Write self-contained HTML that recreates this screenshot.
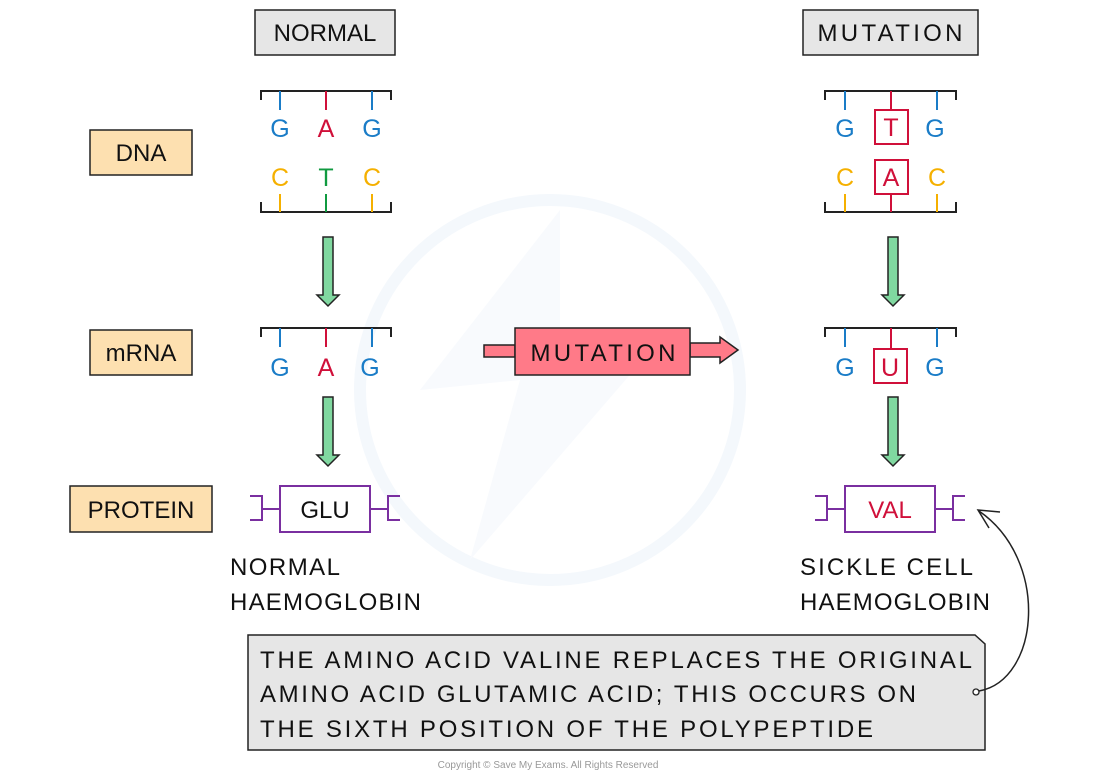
<!DOCTYPE html>
<html><head><meta charset="utf-8"><style>
body{margin:0;background:#fff}
svg{display:block}
text{font-family:"Liberation Sans","DejaVu Sans",sans-serif}
</style></head><body>
<svg width="1100" height="775" viewBox="0 0 1100 775" xmlns="http://www.w3.org/2000/svg">
<!-- watermark -->
<circle cx="550" cy="390" r="190" fill="none" stroke="#f4f8fc" stroke-width="12"/>
<path d="M560 210 L420 390 L520 380 L470 560 L660 340 L560 350 Z" fill="#f8fafd"/>

<g stroke="#222" stroke-width="1.5">
<rect x="255" y="10" width="140" height="45" fill="#e6e6e6"/>
<rect x="803" y="10" width="175" height="45" fill="#e6e6e6"/>
<rect x="90" y="130" width="102" height="45" fill="#fde0b0"/>
<rect x="90" y="330" width="102" height="45" fill="#fde0b0"/>
<rect x="70" y="486" width="142" height="46" fill="#fde0b0"/>
</g>
<g font-size="24" fill="#111" text-anchor="middle">
<text x="325" y="41">NORMAL</text>
<text x="890" y="41" textLength="145">MUTATION</text>
<text x="141" y="161">DNA</text>
<text x="141" y="361">mRNA</text>
<text x="141" y="518">PROTEIN</text>
</g>

<g fill="none" stroke="#222" stroke-width="2">
<path d="M261 100 V91 H391 V100"/>
<path d="M261 202 V212 H391 V202"/>
<path d="M261 337 V328 H391 V337"/>
<path d="M825 100 V91 H956 V100"/>
<path d="M825 202 V212 H956 V202"/>
<path d="M825 337 V328 H956 V337"/>
</g>
<g stroke-width="2">
<line x1="280" y1="91" x2="280" y2="110" stroke="#1a7cc7"/>
<line x1="326" y1="91" x2="326" y2="110" stroke="#d0103a"/>
<line x1="372" y1="91" x2="372" y2="110" stroke="#1a7cc7"/>
<line x1="280" y1="194" x2="280" y2="212" stroke="#f5b000"/>
<line x1="326" y1="194" x2="326" y2="212" stroke="#109a40"/>
<line x1="372" y1="194" x2="372" y2="212" stroke="#f5b000"/>
<line x1="280" y1="328" x2="280" y2="347" stroke="#1a7cc7"/>
<line x1="326" y1="328" x2="326" y2="347" stroke="#d0103a"/>
<line x1="372" y1="328" x2="372" y2="347" stroke="#1a7cc7"/>
<line x1="845" y1="91" x2="845" y2="110" stroke="#1a7cc7"/>
<line x1="891" y1="91" x2="891" y2="110" stroke="#d0103a"/>
<line x1="937" y1="91" x2="937" y2="110" stroke="#1a7cc7"/>
<line x1="845" y1="194" x2="845" y2="212" stroke="#f5b000"/>
<line x1="891" y1="194" x2="891" y2="212" stroke="#d0103a"/>
<line x1="937" y1="194" x2="937" y2="212" stroke="#f5b000"/>
<line x1="845" y1="328" x2="845" y2="347" stroke="#1a7cc7"/>
<line x1="891" y1="328" x2="891" y2="349" stroke="#d0103a"/>
<line x1="937" y1="328" x2="937" y2="347" stroke="#1a7cc7"/>
</g>
<g fill="none" stroke="#d0103a" stroke-width="2">
<rect x="875" y="110" width="33" height="34"/>
<rect x="875" y="160" width="33" height="34"/>
<rect x="874" y="349" width="33" height="34"/>
</g>
<g font-size="25" text-anchor="middle">
<text x="280" y="137" fill="#1a7cc7">G</text>
<text x="326" y="137" fill="#d0103a">A</text>
<text x="372" y="137" fill="#1a7cc7">G</text>
<text x="280" y="186" fill="#f5b000">C</text>
<text x="326" y="186" fill="#109a40">T</text>
<text x="372" y="186" fill="#f5b000">C</text>
<text x="280" y="376" fill="#1a7cc7">G</text>
<text x="326" y="376" fill="#d0103a">A</text>
<text x="370" y="376" fill="#1a7cc7">G</text>
<text x="845" y="137" fill="#1a7cc7">G</text>
<text x="891" y="136" fill="#d0103a">T</text>
<text x="935" y="137" fill="#1a7cc7">G</text>
<text x="845" y="186" fill="#f5b000">C</text>
<text x="891" y="186" fill="#d0103a">A</text>
<text x="937" y="186" fill="#f5b000">C</text>
<text x="845" y="376" fill="#1a7cc7">G</text>
<text x="890" y="376" fill="#d0103a">U</text>
<text x="935" y="376" fill="#1a7cc7">G</text>
</g>

<g fill="#80d8a0" stroke="#222" stroke-width="1.5">
<path d="M323 237 H333 V295 H339 L328 306 L317 295 H323 Z"/>
<path d="M323 397 H333 V455 H339 L328 466 L317 455 H323 Z"/>
<path d="M888 237 H898 V295 H904 L893 306 L882 295 H888 Z"/>
<path d="M888 397 H898 V455 H904 L893 466 L882 455 H888 Z"/>
</g>

<g fill="#ff7a88" stroke="#222" stroke-width="1.5">
<rect x="484" y="345" width="31" height="12"/>
<path d="M690 343 H720 V337 L738 350 L720 363 V357 H690 Z"/>
<rect x="515" y="328" width="175" height="47"/>
</g>
<text x="603" y="361" font-size="24" text-anchor="middle" fill="#111" textLength="145">MUTATION</text>

<g fill="none" stroke="#7a2fa0" stroke-width="2">
<path d="M250 496 H262 V520 H250 M262 509 H280"/>
<rect x="280" y="486" width="90" height="46"/>
<path d="M370 509 H388 M400 496 H388 V520 H400"/>
<path d="M815 496 H827 V520 H815 M827 509 H845"/>
<rect x="845" y="486" width="90" height="46"/>
<path d="M935 509 H953 M965 496 H953 V520 H965"/>
</g>
<text x="325" y="518" font-size="24" text-anchor="middle" fill="#111">GLU</text>
<text x="890" y="518" font-size="24" text-anchor="middle" fill="#d0103a">VAL</text>

<g font-size="24" fill="#111">
<text x="230" y="575" textLength="110">NORMAL</text>
<text x="230" y="610" textLength="191">HAEMOGLOBIN</text>
<text x="800" y="575" textLength="173">SICKLE  CELL</text>
<text x="800" y="610" textLength="190">HAEMOGLOBIN</text>
</g>

<path d="M248 635 H975 L985 644 V750 H248 Z" fill="#e6e6e6" stroke="#222" stroke-width="1.5"/>
<g font-size="24" fill="#111">
<text x="260" y="668" textLength="712" lengthAdjust="spacing">THE  AMINO  ACID  VALINE  REPLACES  THE ORIGINAL</text>
<text x="260" y="702" textLength="656" lengthAdjust="spacing">AMINO  ACID  GLUTAMIC  ACID;  THIS OCCURS  ON</text>
<text x="260" y="737" textLength="613" lengthAdjust="spacing">THE  SIXTH  POSITION  OF  THE POLYPEPTIDE</text>
</g>
<circle cx="976" cy="692" r="3" fill="#fff" stroke="#222" stroke-width="1.3"/>
<path d="M979 691 C1040 680 1050 560 979 511" fill="none" stroke="#222" stroke-width="1.5"/>
<path d="M1000 512 L978 510 L989 528" fill="none" stroke="#222" stroke-width="1.5"/>

<text x="548" y="768" font-size="10" fill="#999" text-anchor="middle">Copyright © Save My Exams. All Rights Reserved</text>
</svg>
</body></html>
